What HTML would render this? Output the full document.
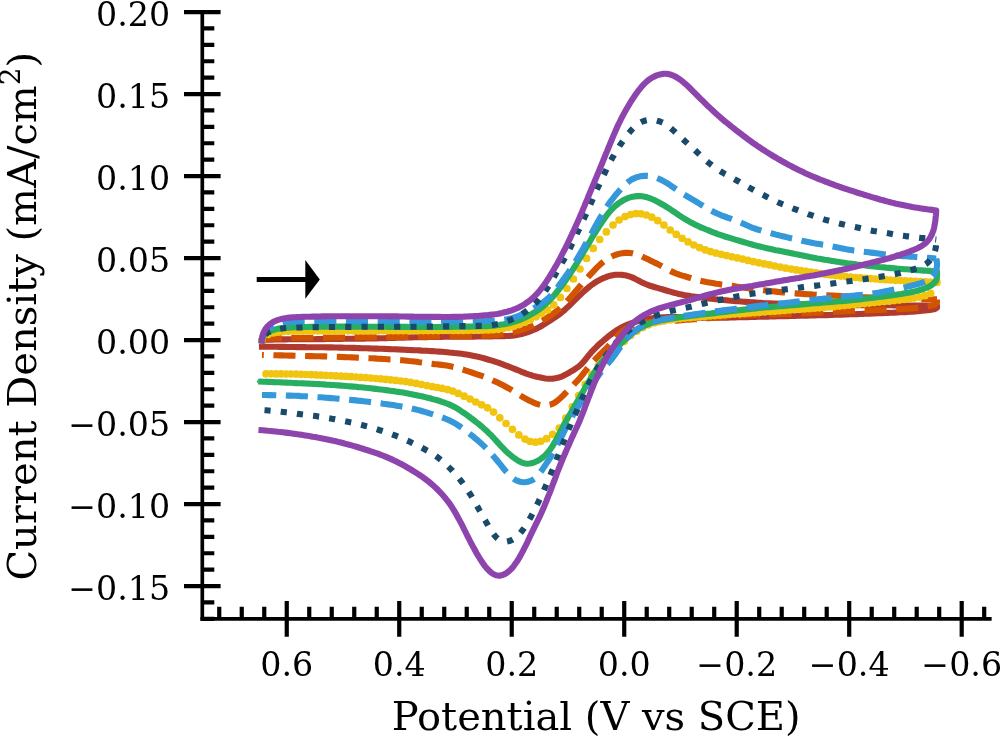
<!DOCTYPE html>
<html><head><meta charset="utf-8"><title>Cyclic voltammogram</title>
<style>
html,body{margin:0;padding:0;background:#fff;}
body{width:1000px;height:736px;overflow:hidden;}
svg{display:block;font-family:"DejaVu Serif","Liberation Serif",serif;fill:#000;}
</style></head><body>
<svg width="1000" height="736" viewBox="0 0 1000 736">
<rect width="1000" height="736" fill="#fff"/>
<g id="curves" fill="none" stroke-linejoin="round"><path d="M261.8 340.6L264.2 340.0L266.7 339.8L269.2 339.7L271.7 339.6L274.2 339.5L276.7 339.5L279.2 339.4L281.7 339.4L284.2 339.4L286.7 339.4L289.2 339.3L291.7 339.3L294.2 339.3L296.7 339.3L299.2 339.3L301.7 339.3L304.2 339.3L306.7 339.2L309.2 339.2L311.7 339.2L314.2 339.2L316.7 339.1L319.2 339.1L321.7 339.1L324.2 339.1L326.7 339.0L329.2 339.0L331.7 339.0L334.2 339.0L336.7 338.9L339.2 338.9L341.7 338.9L344.2 338.8L346.7 338.8L349.2 338.8L351.7 338.8L354.2 338.7L356.7 338.7L359.2 338.7L361.7 338.6L364.2 338.6L366.7 338.5L369.2 338.5L371.7 338.5L374.2 338.4L376.7 338.4L379.2 338.3L381.7 338.2L384.2 338.2L386.7 338.1L389.2 338.0L391.7 338.0L394.2 337.9L396.7 337.8L399.2 337.8L401.7 337.7L404.2 337.6L406.7 337.5L409.2 337.5L411.7 337.4L414.2 337.3L416.7 337.3L419.2 337.2L421.7 337.2L424.2 337.1L426.7 337.1L429.2 337.0L431.7 337.0L434.2 336.9L436.7 336.9L439.2 336.9L441.7 336.9L444.2 336.8L446.7 336.8L449.2 336.8L451.7 336.8L454.2 336.7L456.7 336.7L459.2 336.7L461.7 336.7L464.2 336.7L466.7 336.6L469.2 336.6L471.7 336.6L474.2 336.6L476.7 336.5L479.2 336.5L481.7 336.5L484.2 336.5L486.7 336.4L489.2 336.4L491.7 336.4L494.2 336.3L496.8 336.3L499.3 336.3L501.8 336.2L504.3 336.1L506.7 336.0L509.2 335.9L511.7 335.7L514.2 335.4L516.7 335.0L519.1 334.5L521.6 334.0L524.0 333.3L526.4 332.6L528.7 331.8L531.1 330.9L533.4 330.0L535.7 329.0L537.9 327.9L540.1 326.7L542.3 325.5L544.4 324.2L546.5 322.8L548.6 321.5L550.7 320.1L552.8 318.7L554.9 317.4L557.0 316.0L559.0 314.5L561.0 313.0L562.9 311.4L564.8 309.8L566.6 308.1L568.5 306.4L570.3 304.7L572.1 302.9L573.8 301.2L575.6 299.4L577.4 297.6L579.2 295.9L581.0 294.1L582.8 292.4L584.6 290.7L586.5 289.1L588.4 287.5L590.4 285.9L592.4 284.4L594.4 283.0L596.6 281.7L598.7 280.4L600.9 279.3L603.2 278.2L605.5 277.3L607.8 276.4L610.2 275.7L612.6 275.2L615.1 274.8L617.6 274.7L620.0 274.7L622.5 274.9L625.0 275.3L627.4 275.8L629.7 276.5L632.1 277.4L634.3 278.4L636.5 279.6L638.8 280.7L641.0 281.9L643.3 283.0L645.5 284.0L647.8 284.9L650.2 285.8L652.6 286.5L655.0 287.2L657.4 287.9L659.8 288.6L662.2 289.3L664.6 290.0L667.0 290.7L669.4 291.4L671.8 292.1L674.2 292.8L676.6 293.4L679.0 294.0L681.5 294.5L683.9 295.0L686.4 295.4L688.9 295.8L691.3 296.2L693.8 296.5L696.3 296.9L698.8 297.2L701.2 297.5L703.7 297.8L706.2 298.1L708.7 298.4L711.2 298.7L713.6 299.0L716.1 299.3L718.6 299.5L721.1 299.8L723.6 300.0L726.1 300.2L728.6 300.5L731.1 300.7L733.6 300.9L736.1 301.1L738.5 301.3L741.0 301.5L743.5 301.7L746.0 301.9L748.5 302.1L751.0 302.3L753.5 302.4L756.0 302.6L758.5 302.8L761.0 302.9L763.5 303.1L766.0 303.2L768.5 303.3L771.0 303.4L773.5 303.5L776.0 303.6L778.5 303.7L781.0 303.7L783.5 303.8L786.0 303.9L788.5 303.9L791.0 304.0L793.5 304.1L796.0 304.1L798.5 304.2L801.0 304.2L803.5 304.3L806.0 304.3L808.5 304.4L811.0 304.4L813.5 304.5L816.0 304.5L818.5 304.5L821.0 304.6L823.5 304.6L826.0 304.7L828.5 304.7L831.0 304.8L833.5 304.8L836.0 304.8L838.5 304.9L841.0 304.9L843.5 304.9L846.0 305.0L848.5 305.0L851.0 305.0L853.5 305.0L856.0 305.1L858.5 305.1L861.0 305.1L863.5 305.1L866.0 305.2L868.5 305.2L871.0 305.2L873.5 305.2L876.0 305.2L878.5 305.3L881.0 305.3L883.5 305.3L886.0 305.3L888.5 305.3L891.0 305.3L893.5 305.4L896.0 305.4L898.5 305.4L901.0 305.4L903.5 305.4L906.0 305.4L908.5 305.5L911.0 305.5L913.5 305.5L916.0 305.5L918.5 305.5L921.0 305.5L923.5 305.5L926.0 305.5L928.5 305.6L931.0 305.6L933.5 305.6L936.0 305.6L937.0 305.6L937.0 307.7L935.0 309.0L932.5 309.6L930.0 310.0L927.5 310.2L925.0 310.5L922.5 310.8L920.0 311.0L917.5 311.2L915.0 311.4L912.5 311.6L910.0 311.8L907.5 311.9L905.0 312.1L902.5 312.2L900.0 312.3L897.5 312.5L895.1 312.6L892.6 312.7L890.1 312.8L887.6 312.9L885.1 313.0L882.6 313.1L880.1 313.2L877.6 313.3L875.1 313.4L872.6 313.5L870.1 313.6L867.6 313.7L865.1 313.8L862.6 313.9L860.1 314.0L857.6 314.1L855.1 314.2L852.6 314.3L850.1 314.3L847.6 314.4L845.1 314.5L842.6 314.6L840.1 314.7L837.6 314.8L835.1 314.8L832.6 314.9L830.1 315.0L827.6 315.1L825.1 315.1L822.6 315.2L820.1 315.3L817.6 315.3L815.1 315.4L812.6 315.5L810.1 315.5L807.6 315.6L805.1 315.6L802.6 315.7L800.1 315.8L797.6 315.8L795.1 315.9L792.6 315.9L790.1 316.0L787.6 316.1L785.1 316.1L782.6 316.2L780.1 316.3L777.6 316.3L775.1 316.4L772.6 316.4L770.1 316.5L767.6 316.6L765.1 316.6L762.6 316.7L760.1 316.8L757.6 316.8L755.1 316.9L752.6 316.9L750.1 317.0L747.6 317.1L745.1 317.1L742.6 317.2L740.1 317.2L737.6 317.3L735.1 317.4L732.6 317.4L730.1 317.5L727.6 317.6L725.1 317.6L722.6 317.7L720.1 317.7L717.6 317.7L715.1 317.8L712.6 317.8L710.1 317.8L707.6 317.8L705.1 317.7L702.6 317.7L700.1 317.7L697.6 317.6L695.1 317.5L692.6 317.5L690.1 317.4L687.6 317.3L685.1 317.3L682.6 317.2L680.1 317.1L677.6 317.1L675.1 317.1L672.6 317.1L670.1 317.1L667.6 317.1L665.1 317.2L662.6 317.3L660.1 317.5L657.6 317.7L655.1 317.9L652.6 318.2L650.2 318.5L647.7 318.9L645.2 319.4L642.8 319.9L640.4 320.5L637.9 321.1L635.5 321.8L633.2 322.6L630.8 323.4L628.5 324.3L626.1 325.2L623.9 326.2L621.6 327.4L619.5 328.6L617.3 329.9L615.3 331.2L613.2 332.7L611.2 334.2L609.2 335.7L607.3 337.3L605.4 338.9L603.5 340.5L601.6 342.2L599.7 343.8L597.9 345.5L596.1 347.3L594.3 349.1L592.6 350.9L590.9 352.7L589.3 354.6L587.7 356.6L586.1 358.6L584.6 360.5L583.0 362.4L581.3 364.2L579.5 365.8L577.6 367.3L575.5 368.7L573.4 370.1L571.2 371.4L569.1 372.7L566.9 373.9L564.7 375.1L562.4 376.2L560.2 377.1L557.8 377.8L555.4 378.3L552.9 378.6L550.5 378.7L548.0 378.7L545.5 378.5L543.1 378.1L540.6 377.6L538.2 377.1L535.7 376.5L533.3 375.9L530.9 375.1L528.6 374.4L526.2 373.6L523.9 372.7L521.5 371.8L519.2 370.8L516.9 369.8L514.6 368.9L512.3 368.0L509.9 367.0L507.6 366.1L505.3 365.3L502.9 364.4L500.6 363.5L498.2 362.7L495.8 361.9L493.5 361.1L491.1 360.4L488.7 359.7L486.3 359.0L483.9 358.3L481.5 357.6L479.0 357.0L476.6 356.4L474.2 355.9L471.7 355.4L469.3 355.0L466.8 354.6L464.3 354.2L461.8 353.8L459.4 353.5L456.9 353.2L454.4 353.0L451.9 352.7L449.4 352.5L446.9 352.2L444.4 352.0L441.9 351.8L439.4 351.6L436.9 351.5L434.5 351.3L432.0 351.1L429.5 351.0L427.0 350.8L424.5 350.7L422.0 350.6L419.5 350.4L417.0 350.3L414.5 350.2L412.0 350.1L409.5 350.0L407.0 349.9L404.5 349.8L402.0 349.6L399.5 349.5L397.0 349.4L394.5 349.3L392.0 349.2L389.5 349.1L387.0 349.0L384.5 348.9L382.0 348.8L379.5 348.7L377.0 348.6L374.5 348.6L372.0 348.5L369.5 348.4L367.0 348.3L364.5 348.2L362.0 348.2L359.5 348.1L357.0 348.0L354.5 347.9L352.0 347.9L349.5 347.8L347.0 347.7L344.5 347.7L342.0 347.6L339.5 347.6L337.0 347.5L334.5 347.5L332.0 347.4L329.5 347.4L327.0 347.4L324.5 347.3L322.0 347.3L319.5 347.3L317.0 347.3L314.5 347.2L312.0 347.2L309.5 347.2L307.0 347.2L304.5 347.1L302.0 347.1L299.5 347.1L297.0 347.1L294.5 347.0L292.0 347.0L289.5 347.0L287.0 347.0L284.5 346.9L282.0 346.9L279.5 346.9L277.0 346.8L274.5 346.8L272.0 346.8L269.5 346.7L267.0 346.7L264.5 346.6L262.0 346.6" stroke="#b03a2e" stroke-width="6.1" stroke-linejoin="round" stroke-linecap="square"/>
<path d="M261.9 340.6L264.0 339.5L266.5 339.0L269.0 338.7L271.4 338.5L273.9 338.3L276.4 338.2L278.9 338.1L281.4 338.1L283.9 338.0L286.4 337.9L288.9 337.9L291.4 337.9L293.9 337.9L296.4 337.8L298.9 337.8L301.4 337.8L303.9 337.8L306.4 337.8L308.9 337.7L311.4 337.7L313.9 337.7L316.4 337.7L318.9 337.6L321.4 337.6L323.9 337.6L326.4 337.6L328.9 337.6L331.4 337.5L333.9 337.5L336.4 337.5L338.9 337.5L341.4 337.5L343.9 337.4L346.4 337.4L348.9 337.4L351.4 337.4L353.9 337.4L356.4 337.3L358.9 337.3L361.4 337.3L363.9 337.3L366.4 337.3L368.9 337.2L371.4 337.2L373.9 337.2L376.4 337.2L378.9 337.1L381.4 337.1L383.9 337.1L386.4 337.1L388.9 337.1L391.4 337.0L393.9 337.0L396.4 337.0L398.9 337.0L401.4 336.9L403.9 336.9L406.4 336.9L408.9 336.8L411.4 336.8L413.9 336.8L416.4 336.8L418.9 336.7L421.4 336.7L423.9 336.7L426.4 336.6L428.9 336.6L431.4 336.6L433.9 336.6L436.4 336.5L438.9 336.5L441.4 336.5L443.9 336.4L446.4 336.4L449.0 336.4L451.5 336.3L454.0 336.3L456.5 336.3L459.0 336.2L461.5 336.2L464.0 336.2L466.5 336.1L469.0 336.1L471.5 336.0L474.0 336.0L476.5 335.9L479.0 335.8L481.5 335.8L483.9 335.7L486.4 335.6L488.9 335.5L491.4 335.3L493.9 335.2L496.4 334.9L498.9 334.7L501.4 334.3L503.9 334.0L506.3 333.6L508.8 333.1L511.2 332.6L513.7 332.1L516.1 331.5L518.5 330.8L520.9 330.1L523.3 329.3L525.7 328.5L528.0 327.6L530.3 326.7L532.6 325.7L534.8 324.6L537.1 323.5L539.3 322.3L541.5 321.1L543.6 319.9L545.8 318.6L547.9 317.2L550.0 315.9L552.1 314.5L554.1 313.0L556.1 311.5L558.0 309.9L559.9 308.3L561.8 306.6L563.5 304.9L565.3 303.1L567.0 301.3L568.7 299.4L570.3 297.5L572.0 295.7L573.6 293.7L575.2 291.8L576.8 289.9L578.4 288.0L580.0 286.1L581.6 284.2L583.3 282.3L585.0 280.5L586.7 278.6L588.3 276.8L590.0 274.9L591.7 273.1L593.4 271.3L595.2 269.4L596.9 267.7L598.7 265.9L600.5 264.2L602.4 262.6L604.4 261.0L606.4 259.6L608.5 258.2L610.7 257.0L612.9 255.9L615.2 255.0L617.6 254.2L620.0 253.6L622.4 253.2L624.9 252.9L627.3 252.8L629.8 253.0L632.2 253.3L634.6 253.9L637.0 254.6L639.4 255.5L641.7 256.4L644.0 257.5L646.2 258.5L648.5 259.6L650.7 260.7L653.0 261.8L655.2 262.9L657.5 263.9L659.7 265.1L661.9 266.3L664.1 267.5L666.3 268.7L668.4 269.9L670.7 271.1L672.9 272.1L675.2 273.1L677.5 274.0L679.9 274.8L682.3 275.6L684.7 276.3L687.1 277.0L689.5 277.7L691.9 278.5L694.3 279.2L696.7 279.9L699.1 280.5L701.5 281.1L703.9 281.5L706.4 282.0L708.9 282.4L711.3 282.8L713.8 283.2L716.3 283.7L718.7 284.1L721.2 284.5L723.7 284.8L726.1 285.1L728.6 285.5L731.1 285.8L733.6 286.1L736.0 286.5L738.5 286.9L741.0 287.2L743.5 287.6L745.9 288.0L748.4 288.3L750.9 288.7L753.4 289.0L755.8 289.3L758.3 289.6L760.8 289.9L763.3 290.2L765.8 290.5L768.3 290.8L770.7 291.1L773.2 291.3L775.7 291.6L778.2 291.9L780.7 292.1L783.2 292.4L785.7 292.6L788.2 292.8L790.6 293.0L793.1 293.2L795.6 293.4L798.1 293.6L800.6 293.8L803.1 294.0L805.6 294.1L808.1 294.3L810.6 294.4L813.1 294.6L815.6 294.7L818.1 294.9L820.6 295.0L823.1 295.1L825.6 295.3L828.1 295.4L830.6 295.5L833.1 295.6L835.6 295.8L838.1 295.9L840.6 296.0L843.1 296.2L845.6 296.3L848.0 296.4L850.5 296.6L853.0 296.7L855.5 296.8L858.0 296.9L860.5 297.1L863.0 297.2L865.5 297.3L868.0 297.4L870.5 297.5L873.0 297.6L875.5 297.7L878.0 297.8L880.5 297.9L883.0 298.0L885.5 298.1L888.0 298.1L890.5 298.2L893.0 298.3L895.5 298.4L898.0 298.4L900.5 298.5L903.0 298.6L905.5 298.7L908.0 298.7L910.5 298.8L913.0 298.9L915.5 298.9L918.0 299.0L920.5 299.0L923.0 299.1L925.5 299.2L928.0 299.2L930.5 299.3L933.0 299.3L935.5 299.4L937.0 299.4" stroke="#d35400" stroke-width="6.1" stroke-dasharray="22.1 9.6" stroke-dashoffset="2.0"/>
<path d="M937.0 299.4L937.0 302.0L936.2 303.8L933.9 304.9L931.2 305.7L928.8 306.2L926.4 306.7L923.8 307.0L921.3 307.3L918.9 307.6L916.4 307.9L913.9 308.2L911.4 308.4L908.9 308.6L906.4 308.7L903.9 308.9L901.4 309.0L898.9 309.2L896.4 309.3L893.9 309.4L891.4 309.5L888.9 309.6L886.4 309.7L883.9 309.8L881.4 309.9L878.9 310.0L876.4 310.1L873.9 310.2L871.4 310.3L868.9 310.4L866.4 310.5L863.9 310.5L861.4 310.6L858.9 310.7L856.4 310.8L853.9 310.9L851.4 311.0L848.9 311.1L846.4 311.2L843.9 311.3L841.4 311.4L838.9 311.5L836.4 311.6L833.9 311.8L831.4 311.9L828.9 312.0L826.4 312.2L823.9 312.3L821.5 312.4L819.0 312.6L816.5 312.7L814.0 312.8L811.5 312.9L809.0 313.0L806.5 313.1L804.0 313.3L801.5 313.4L799.0 313.5L796.5 313.6L794.0 313.7L791.5 313.8L789.0 313.9L786.5 313.9L784.0 314.0L781.5 314.1L779.0 314.2L776.5 314.3L774.0 314.4L771.5 314.4L769.0 314.5L766.5 314.6L764.0 314.6L761.5 314.7L759.0 314.8L756.5 314.8L754.0 314.9L751.5 315.0L749.0 315.1L746.5 315.2L744.0 315.3L741.5 315.5L739.0 315.6L736.5 315.8L734.0 316.0L731.5 316.2L729.0 316.4L726.5 316.6L724.0 316.8L721.5 317.0L719.0 317.3L716.6 317.5L714.1 317.7L711.6 317.9L709.1 318.1L706.6 318.3L704.1 318.5L701.6 318.7L699.1 318.9L696.6 319.1L694.1 319.3L691.6 319.4L689.1 319.6L686.6 319.8L684.1 320.0L681.6 320.2L679.1 320.4L676.7 320.6L674.2 320.7L671.7 320.9L669.2 321.0L666.7 321.2L664.2 321.3L661.7 321.4L659.2 321.5L656.7 321.6L654.2 321.8L651.7 321.9L649.2 322.1L646.7 322.3L644.2 322.6L641.7 323.0L639.3 323.4L636.9 324.0L634.5 324.6L632.1 325.5L629.9 326.5L627.7 327.6L625.6 328.9L623.5 330.4L621.6 331.9L619.7 333.6L618.0 335.4L616.3 337.2L614.6 339.0L613.0 340.9L611.3 342.8L609.6 344.7L607.9 346.5L606.2 348.3L604.4 350.1L602.7 351.9L600.9 353.6L599.1 355.4L597.4 357.2L595.6 359.0L593.9 360.8L592.2 362.7L590.6 364.5L589.0 366.4L587.4 368.4L585.9 370.4L584.3 372.3L582.8 374.3L581.3 376.3L579.7 378.2L578.0 380.1L576.3 381.9L574.6 383.7L572.9 385.6L571.1 387.4L569.4 389.2L567.7 390.9L565.9 392.7L564.1 394.5L562.3 396.3L560.5 398.0L558.6 399.7L556.6 401.3L554.6 402.7L552.4 403.9L550.2 404.7L547.9 405.2L545.5 405.4L543.1 405.4L540.7 405.0L538.3 404.4L536.0 403.6L533.6 402.6L531.3 401.5L529.1 400.4L526.9 399.3L524.7 398.1L522.5 396.8L520.4 395.5L518.3 394.1L516.2 392.8L514.0 391.5L511.9 390.2L509.7 388.9L507.5 387.7L505.3 386.5L503.1 385.3L500.9 384.2L498.6 383.1L496.4 382.0L494.1 380.9L491.9 379.9L489.6 378.9L487.2 378.0L484.9 377.1L482.6 376.2L480.2 375.4L477.8 374.6L475.5 373.8L473.1 373.0L470.7 372.2L468.3 371.4L465.9 370.6L463.6 369.8L461.2 369.1L458.8 368.3L456.4 367.6L454.0 367.0L451.5 366.5L449.1 366.0L446.6 365.6L444.2 365.2L441.7 364.9L439.2 364.6L436.7 364.3L434.2 364.1L431.7 363.8L429.3 363.5L426.8 363.1L424.3 362.8L421.8 362.5L419.3 362.2L416.9 361.8L414.4 361.5L411.9 361.2L409.4 361.0L406.9 360.7L404.4 360.5L401.9 360.3L399.4 360.1L397.0 359.9L394.5 359.7L392.0 359.5L389.5 359.4L387.0 359.2L384.5 359.0L382.0 358.9L379.5 358.7L377.0 358.6L374.5 358.4L372.0 358.3L369.5 358.2L367.0 358.1L364.5 357.9L362.0 357.8L359.5 357.7L357.0 357.6L354.5 357.5L352.0 357.4L349.5 357.3L347.0 357.2L344.5 357.1L342.0 357.0L339.5 356.9L337.0 356.8L334.5 356.7L332.0 356.7L329.5 356.6L327.0 356.5L324.5 356.4L322.0 356.4L319.5 356.3L317.0 356.2L314.5 356.2L312.0 356.1L309.5 356.1L307.0 356.0L304.5 355.9L302.0 355.9L299.5 355.8L297.0 355.8L294.5 355.7L292.0 355.6L289.5 355.6L287.0 355.5L284.5 355.5L282.0 355.4L279.5 355.4L277.0 355.3L274.5 355.3L272.0 355.2L269.5 355.2L267.0 355.1L264.5 355.1L262.0 355.0" stroke="#d35400" stroke-width="6.1" stroke-dasharray="22.1 9.6" stroke-dashoffset="8.7"/>
<path d="M261.8 340.5h0M268.0 334.6h0M273.3 333.0h0M278.2 332.2h0M283.2 331.6h0M288.2 331.3h0M293.2 331.1h0M298.2 331.0h0M303.2 331.0h0M308.2 331.0h0M313.2 330.9h0M318.2 330.9h0M323.2 330.9h0M328.2 330.9h0M333.2 330.8h0M338.2 330.8h0M343.2 330.8h0M348.2 330.8h0M353.2 330.8h0M358.2 330.8h0M363.2 330.8h0M368.2 330.8h0M373.2 330.8h0M378.2 330.8h0M383.2 330.7h0M388.2 330.7h0M393.2 330.7h0M398.2 330.7h0M403.2 330.7h0M408.2 330.7h0M413.2 330.7h0M418.2 330.7h0M423.2 330.6h0M428.2 330.6h0M433.2 330.6h0M438.3 330.6h0M443.3 330.5h0M448.3 330.5h0M453.3 330.5h0M458.3 330.4h0M463.3 330.4h0M468.3 330.3h0M473.3 330.3h0M478.3 330.2h0M483.3 330.1h0M488.3 330.0h0M493.3 329.7h0M498.3 329.3h0M503.2 328.6h0M508.6 327.6h0M513.9 326.3h0M519.1 324.6h0M524.7 322.3h0M530.2 319.8h0M536.0 316.8h0M541.6 313.6h0M547.6 309.9h0M553.7 304.9h0M560.4 297.4h0M566.9 288.5h0M573.4 279.0h0M580.0 269.0h0M586.6 258.4h0M593.2 248.4h0M599.7 239.5h0M606.3 231.9h0M613.0 225.1h0M619.1 220.0h0M625.1 216.6h0M630.7 214.6h0M636.0 213.6h0M640.9 213.8h0M646.3 215.0h0M651.8 217.2h0M657.8 220.7h0M663.9 225.1h0M670.2 230.0h0M676.3 234.4h0M682.1 238.3h0M688.1 241.9h0M693.9 245.0h0M699.7 247.7h0M705.3 249.9h0M710.5 251.6h0M715.9 253.0h0M721.2 254.3h0M726.6 255.6h0M731.9 256.8h0M737.3 257.9h0M742.7 259.1h0M748.0 260.4h0M753.4 261.7h0M758.8 262.8h0M764.2 263.9h0M769.6 264.9h0M774.9 266.0h0M780.3 267.1h0M785.7 268.2h0M791.2 269.1h0M796.1 269.9h0M801.0 270.7h0M806.0 271.4h0M810.9 272.2h0M815.9 272.9h0M820.8 273.7h0M825.8 274.4h0M830.7 275.0h0M835.7 275.6h0M840.7 276.1h0M845.7 276.6h0M850.6 277.0h0M855.6 277.5h0M860.6 277.9h0M865.6 278.3h0M870.6 278.6h0M875.6 279.0h0M880.6 279.4h0M885.6 279.7h0M890.5 280.0h0M895.5 280.3h0M900.5 280.5h0M905.5 280.8h0M910.5 281.0h0M915.5 281.3h0M920.5 281.5h0M925.5 281.8h0M930.5 282.0h0M935.5 282.3h0M937.0 282.4h0M930.6 293.4h0M924.9 295.7h0M919.4 297.1h0M914.1 298.1h0M909.1 298.9h0M904.1 299.5h0M899.2 300.1h0M894.2 300.6h0M889.2 301.2h0M884.2 301.6h0M879.2 302.1h0M874.3 302.6h0M869.3 303.1h0M864.3 303.6h0M859.3 304.1h0M854.4 304.6h0M849.4 305.1h0M844.4 305.6h0M839.4 306.1h0M834.5 306.6h0M829.5 307.0h0M824.5 307.4h0M819.5 307.8h0M814.5 308.2h0M809.5 308.6h0M804.5 308.9h0M799.6 309.3h0M794.6 309.7h0M789.6 310.0h0M784.6 310.4h0M779.6 310.8h0M774.6 311.2h0M769.6 311.5h0M764.6 311.9h0M759.7 312.3h0M754.7 312.6h0M749.7 313.0h0M744.7 313.4h0M739.7 313.8h0M734.7 314.1h0M729.7 314.5h0M724.7 314.8h0M719.8 315.2h0M714.8 315.6h0M709.8 316.0h0M704.8 316.4h0M699.8 316.8h0M694.8 317.2h0M689.8 317.7h0M684.8 318.1h0M679.9 318.6h0M674.9 319.2h0M670.0 319.9h0M665.0 320.6h0M659.6 321.7h0M654.2 323.0h0M648.6 324.8h0M642.7 327.6h0M636.7 331.2h0M630.7 335.6h0M624.4 341.3h0M617.8 347.4h0M611.5 353.1h0M605.1 358.8h0M598.4 365.5h0M591.8 374.3h0M585.2 384.3h0M578.7 395.5h0M572.3 406.8h0M565.8 418.2h0M559.2 428.1h0M552.7 434.3h0M546.6 438.7h0M540.8 441.3h0M535.6 442.2h0M530.3 441.5h0M525.0 439.1h0M518.8 434.9h0M512.4 429.3h0M506.1 423.5h0M499.8 417.8h0M493.5 412.1h0M487.5 407.8h0M481.7 404.8h0M475.8 402.0h0M470.0 399.1h0M464.1 396.2h0M458.2 393.4h0M452.7 391.1h0M447.5 389.6h0M442.2 388.4h0M437.2 387.5h0M432.3 386.7h0M426.9 385.6h0M421.5 384.5h0M416.1 383.4h0M410.7 382.4h0M405.8 381.6h0M400.8 381.0h0M395.8 380.4h0M390.9 379.9h0M385.9 379.4h0M380.9 378.9h0M375.9 378.5h0M370.9 378.1h0M365.9 377.7h0M360.9 377.4h0M356.0 377.0h0M351.0 376.7h0M346.0 376.4h0M341.0 376.2h0M336.0 375.9h0M331.0 375.6h0M326.0 375.4h0M321.0 375.2h0M316.0 374.9h0M311.0 374.7h0M306.0 374.5h0M301.0 374.3h0M296.0 374.1h0M291.0 374.0h0M286.0 374.0h0M281.0 373.9h0M276.0 373.9h0M271.0 373.8h0M266.0 373.8h0" stroke="#f1c40f" stroke-width="7.7" stroke-linecap="round"/>
<path d="M261.8 340.5L262.4 338.1L263.6 336.0L265.3 334.1L267.3 332.6L269.5 331.5L271.8 330.5L274.2 329.7L276.6 329.1L279.1 328.6L281.6 328.3L284.0 327.9L286.5 327.7L289.0 327.6L291.5 327.4L294.0 327.3L296.5 327.2L299.0 327.2L301.5 327.1L304.0 327.0L306.5 327.0L309.0 326.9L311.5 326.8L314.0 326.8L316.5 326.7L319.0 326.7L321.5 326.7L324.0 326.6L326.5 326.6L329.0 326.6L331.5 326.6L334.0 326.6L336.5 326.6L339.0 326.6L341.5 326.6L344.0 326.6L346.5 326.6L349.0 326.6L351.5 326.6L354.0 326.7L356.5 326.7L359.0 326.7L361.5 326.7L364.0 326.7L366.5 326.7L369.0 326.7L371.5 326.8L374.0 326.8L376.5 326.8L379.0 326.8L381.5 326.8L384.0 326.8L386.5 326.8L389.0 326.9L391.5 326.9L394.0 326.9L396.5 326.9L399.0 326.9L401.5 326.9L404.0 326.9L406.5 326.9L409.0 327.0L411.5 327.0L414.0 327.0L416.5 327.0L419.0 327.0L421.5 327.0L424.0 327.0L426.5 327.0L429.0 327.0L431.5 327.0L434.0 327.0L436.5 327.0L439.0 327.0L441.5 327.0L444.0 326.9L446.5 326.9L449.0 326.9L451.6 326.9L454.1 326.8L456.6 326.8L459.1 326.8L461.6 326.7L464.1 326.7L466.6 326.6L469.1 326.6L471.6 326.5L474.1 326.5L476.6 326.4L479.1 326.3L481.6 326.3L484.0 326.2L486.5 326.1L489.0 326.0L491.5 325.8L494.0 325.6L496.5 325.3L499.0 325.0L501.4 324.6L503.9 324.2L506.4 323.7L508.8 323.2L511.2 322.6L513.6 321.9L516.0 321.2L518.4 320.4L520.7 319.5L523.0 318.5L525.3 317.4L527.5 316.3L529.7 315.1L531.9 313.9L534.0 312.6L536.2 311.3L538.3 310.0L540.3 308.5L542.3 307.0L544.2 305.4L546.0 303.7L547.8 302.0L549.6 300.2L551.3 298.4L553.0 296.6L554.6 294.7L556.2 292.7L557.8 290.8L559.3 288.8L560.8 286.8L562.3 284.8L563.8 282.8L565.3 280.8L566.7 278.7L568.1 276.7L569.5 274.6L570.9 272.5L572.3 270.4L573.6 268.3L575.0 266.2L576.3 264.1L577.6 262.0L578.9 259.8L580.2 257.7L581.5 255.5L582.7 253.4L584.0 251.2L585.3 249.1L586.5 246.9L587.8 244.8L589.1 242.6L590.4 240.5L591.6 238.3L592.9 236.2L594.3 234.1L595.6 231.9L596.9 229.8L598.3 227.7L599.6 225.6L601.0 223.5L602.4 221.4L603.8 219.4L605.3 217.3L606.7 215.3L608.3 213.3L609.9 211.4L611.6 209.6L613.3 207.8L615.1 206.1L617.1 204.5L619.0 203.0L621.1 201.6L623.2 200.3L625.4 199.2L627.7 198.2L630.1 197.4L632.5 196.8L634.9 196.4L637.4 196.1L639.8 196.1L642.3 196.3L644.7 196.7L647.1 197.3L649.5 198.1L651.8 199.0L654.1 200.0L656.3 201.1L658.5 202.3L660.7 203.5L662.9 204.7L665.1 206.0L667.2 207.3L669.3 208.7L671.4 210.0L673.4 211.4L675.5 212.8L677.6 214.3L679.6 215.7L681.7 217.0L683.9 218.3L686.0 219.6L688.2 220.9L690.3 222.1L692.6 223.3L694.8 224.4L697.0 225.5L699.3 226.6L701.6 227.6L703.9 228.5L706.2 229.5L708.5 230.4L710.8 231.4L713.2 232.3L715.5 233.2L717.8 234.1L720.2 234.9L722.5 235.7L724.9 236.5L727.3 237.2L729.7 237.9L732.1 238.6L734.5 239.4L736.9 240.1L739.3 240.8L741.7 241.5L744.1 242.2L746.5 242.9L748.9 243.6L751.3 244.3L753.7 245.0L756.1 245.6L758.5 246.2L761.0 246.8L763.4 247.4L765.8 248.0L768.2 248.6L770.7 249.1L773.1 249.6L775.6 250.2L778.0 250.6L780.5 251.1L782.9 251.6L785.4 252.1L787.8 252.6L790.3 253.1L792.7 253.6L795.2 254.1L797.6 254.5L800.1 255.0L802.6 255.5L805.0 256.0L807.5 256.5L809.9 257.0L812.4 257.4L814.8 257.9L817.3 258.4L819.7 258.8L822.2 259.2L824.7 259.7L827.1 260.1L829.6 260.5L832.1 260.9L834.5 261.3L837.0 261.7L839.5 262.1L841.9 262.4L844.4 262.8L846.9 263.2L849.4 263.5L851.9 263.8L854.3 264.1L856.8 264.5L859.3 264.8L861.8 265.1L864.3 265.3L866.7 265.6L869.2 265.9L871.7 266.2L874.2 266.4L876.7 266.7L879.2 267.0L881.7 267.2L884.1 267.4L886.6 267.7L889.1 267.9L891.6 268.1L894.1 268.3L896.6 268.6L899.1 268.8L901.6 269.0L904.1 269.2L906.6 269.3L909.1 269.5L911.6 269.7L914.0 269.9L916.5 270.1L919.0 270.3L921.5 270.4L924.0 270.6L926.5 270.8L929.0 270.9L931.5 271.1L934.0 271.2L936.5 271.4L937.0 271.4L937.0 274.0L937.0 276.5L936.8 278.8L935.7 281.1L933.9 283.1L932.1 284.7L930.0 286.1L927.7 287.2L925.4 288.2L923.1 289.0L920.7 289.8L918.3 290.5L915.8 291.1L913.4 291.7L910.9 292.2L908.5 292.7L906.0 293.1L903.6 293.6L901.1 294.0L898.6 294.3L896.1 294.7L893.7 295.1L891.2 295.4L888.7 295.7L886.2 296.1L883.7 296.4L881.3 296.7L878.8 297.0L876.3 297.3L873.8 297.6L871.3 297.9L868.8 298.2L866.4 298.5L863.9 298.8L861.4 299.1L858.9 299.4L856.4 299.7L853.9 300.0L851.5 300.2L849.0 300.5L846.5 300.7L844.0 300.9L841.5 301.1L839.0 301.3L836.5 301.5L834.0 301.7L831.5 301.9L829.0 302.1L826.5 302.3L824.0 302.5L821.5 302.7L819.1 302.9L816.6 303.1L814.1 303.3L811.6 303.5L809.1 303.7L806.6 303.9L804.1 304.2L801.6 304.4L799.1 304.6L796.6 304.9L794.1 305.1L791.7 305.3L789.2 305.5L786.7 305.7L784.2 305.9L781.7 306.1L779.2 306.3L776.7 306.5L774.2 306.7L771.7 306.9L769.2 307.1L766.7 307.3L764.2 307.5L761.7 307.8L759.3 308.0L756.8 308.3L754.3 308.6L751.8 308.8L749.3 309.1L746.8 309.3L744.3 309.6L741.8 309.9L739.4 310.2L736.9 310.4L734.4 310.7L731.9 311.0L729.4 311.3L726.9 311.6L724.4 311.9L722.0 312.2L719.5 312.5L717.0 312.8L714.5 313.1L712.0 313.4L709.5 313.7L707.1 313.9L704.6 314.2L702.1 314.5L699.6 314.8L697.1 315.1L694.6 315.4L692.2 315.7L689.7 316.0L687.2 316.4L684.7 316.7L682.2 317.0L679.7 317.3L677.3 317.7L674.8 318.1L672.3 318.5L669.9 318.8L667.4 319.3L664.9 319.7L662.4 320.1L660.0 320.6L657.5 321.2L655.1 321.8L652.7 322.4L650.4 323.2L648.0 324.1L645.8 325.1L643.5 326.2L641.3 327.4L639.2 328.6L637.1 330.0L635.0 331.4L633.0 332.9L631.0 334.4L629.1 336.0L627.3 337.7L625.4 339.4L623.6 341.1L621.8 342.8L620.0 344.5L618.1 346.2L616.3 347.9L614.4 349.6L612.5 351.2L610.7 352.9L608.8 354.6L607.0 356.3L605.2 358.1L603.5 359.9L601.8 361.7L600.3 363.7L598.8 365.7L597.4 367.7L596.1 369.8L594.7 372.0L593.4 374.1L592.1 376.2L590.8 378.3L589.5 380.5L588.2 382.6L586.9 384.8L585.6 386.9L584.4 389.1L583.2 391.3L581.9 393.4L580.7 395.6L579.4 397.8L578.2 399.9L577.0 402.1L575.7 404.3L574.5 406.5L573.2 408.6L572.0 410.8L570.8 413.0L569.5 415.1L568.2 417.3L567.0 419.5L565.7 421.6L564.5 423.8L563.3 426.0L562.2 428.2L561.0 430.4L559.9 432.7L558.7 434.9L557.6 437.2L556.4 439.4L555.2 441.6L553.9 443.7L552.6 445.9L551.2 447.9L549.8 450.0L548.2 451.9L546.6 453.8L544.8 455.6L543.0 457.3L541.0 458.8L539.0 460.1L536.8 461.3L534.5 462.3L532.2 463.0L529.8 463.5L527.4 463.7L525.1 463.5L522.8 462.9L520.6 462.0L518.4 460.8L516.3 459.5L514.3 458.1L512.3 456.6L510.4 455.0L508.5 453.4L506.6 451.7L504.8 450.0L503.1 448.2L501.3 446.4L499.6 444.5L497.9 442.7L496.3 440.8L494.6 439.0L492.9 437.2L491.2 435.3L489.4 433.6L487.6 431.8L485.8 430.1L483.9 428.5L482.0 426.8L480.1 425.2L478.2 423.6L476.2 422.1L474.2 420.5L472.2 419.0L470.2 417.5L468.2 416.0L466.2 414.6L464.1 413.1L462.0 411.7L459.9 410.3L457.8 408.9L455.7 407.7L453.5 406.5L451.3 405.4L449.0 404.4L446.7 403.5L444.4 402.6L442.0 401.8L439.6 401.0L437.2 400.3L434.8 399.6L432.4 399.0L430.0 398.3L427.5 397.7L425.1 397.1L422.7 396.5L420.2 395.9L417.8 395.4L415.3 394.9L412.9 394.4L410.4 393.9L408.0 393.5L405.5 393.1L403.1 392.6L400.6 392.2L398.1 391.9L395.6 391.5L393.2 391.1L390.7 390.8L388.2 390.4L385.7 390.1L383.2 389.8L380.8 389.5L378.3 389.2L375.8 388.9L373.3 388.6L370.8 388.3L368.3 388.0L365.8 387.8L363.4 387.5L360.9 387.3L358.4 387.1L355.9 386.8L353.4 386.6L350.9 386.4L348.4 386.2L345.9 386.0L343.4 385.8L340.9 385.6L338.4 385.4L335.9 385.2L333.4 385.0L331.0 384.9L328.5 384.7L326.0 384.6L323.5 384.4L321.0 384.3L318.5 384.1L316.0 384.0L313.5 383.9L311.0 383.8L308.5 383.6L306.0 383.5L303.5 383.4L301.0 383.3L298.5 383.2L296.0 383.1L293.5 383.0L291.0 382.8L288.5 382.7L286.0 382.6L283.5 382.5L281.0 382.4L278.5 382.3L276.0 382.2L273.5 382.1L271.0 382.0L268.5 381.9L266.0 381.8L263.5 381.7L261.5 381.6" stroke="#27ae60" stroke-width="6.1" stroke-linejoin="round" stroke-linecap="square"/>
<path d="M261.8 340.5L262.1 338.0L262.8 335.7L264.0 333.4L265.4 331.4L267.2 329.6L269.1 328.0L271.3 326.7L273.5 325.6L275.8 324.7L278.2 324.0L280.7 323.5L283.1 323.0L285.6 322.6L288.1 322.4L290.6 322.2L293.1 322.0L295.6 321.9L298.1 321.8L300.6 321.7L303.1 321.7L305.6 321.7L308.1 321.6L310.6 321.6L313.1 321.6L315.6 321.6L318.1 321.6L320.6 321.5L323.1 321.5L325.6 321.5L328.1 321.5L330.6 321.5L333.1 321.5L335.6 321.5L338.1 321.5L340.6 321.4L343.1 321.4L345.6 321.4L348.1 321.4L350.6 321.4L353.1 321.4L355.6 321.4L358.1 321.4L360.6 321.4L363.1 321.4L365.6 321.4L368.1 321.4L370.6 321.4L373.1 321.4L375.6 321.4L378.1 321.4L380.6 321.5L383.1 321.5L385.6 321.5L388.1 321.5L390.6 321.6L393.1 321.6L395.6 321.6L398.1 321.7L400.6 321.7L403.1 321.7L405.6 321.8L408.1 321.8L410.6 321.8L413.1 321.9L415.6 321.9L418.1 321.9L420.6 322.0L423.2 322.0L425.7 322.0L428.2 322.0L430.7 322.0L433.2 322.0L435.7 322.0L438.2 322.0L440.7 322.0L443.2 321.9L445.7 321.9L448.2 321.9L450.7 321.9L453.2 321.8L455.7 321.8L458.2 321.8L460.7 321.7L463.2 321.7L465.7 321.7L468.2 321.6L470.7 321.6L473.2 321.5L475.7 321.5L478.2 321.4L480.7 321.3L483.2 321.3L485.7 321.2L488.2 321.0L490.7 320.9L493.2 320.8L495.7 320.6L498.2 320.4L500.7 320.2L503.2 319.9L505.6 319.5L508.1 319.1L510.5 318.6L512.9 318.0L515.3 317.2L517.6 316.3L519.9 315.4L522.2 314.4L524.5 313.3L526.7 312.2L528.9 311.0L531.1 309.8L533.3 308.6L535.5 307.3L537.6 306.0L539.7 304.6L541.8 303.2L543.8 301.8L545.8 300.2L547.7 298.7L549.5 297.0L551.3 295.2L552.9 293.4L554.5 291.5L556.0 289.5L557.5 287.5L559.0 285.4L560.5 283.4L561.9 281.4L563.4 279.3L564.9 277.3L566.3 275.3L567.8 273.2L569.2 271.1L570.6 269.1L571.9 267.0L573.3 264.9L574.6 262.8L576.0 260.6L577.3 258.5L578.6 256.4L579.8 254.2L581.1 252.0L582.3 249.9L583.6 247.7L584.8 245.5L586.0 243.3L587.2 241.1L588.4 238.9L589.6 236.7L590.8 234.5L592.0 232.4L593.2 230.2L594.4 228.0L595.6 225.8L596.8 223.6L598.1 221.4L599.3 219.2L600.6 217.1L601.8 214.9L603.1 212.8L604.4 210.6L605.8 208.5L607.1 206.4L608.5 204.3L609.9 202.3L611.4 200.3L613.0 198.3L614.5 196.4L616.1 194.4L617.8 192.5L619.4 190.6L621.1 188.8L622.8 186.9L624.6 185.1L626.4 183.4L628.3 181.8L630.3 180.4L632.4 179.1L634.6 178.1L636.9 177.2L639.3 176.6L641.7 176.1L644.2 175.9L646.7 175.8L649.1 176.0L651.6 176.4L654.0 177.0L656.3 177.7L658.7 178.7L660.9 179.7L663.1 180.9L665.3 182.1L667.5 183.4L669.6 184.8L671.6 186.2L673.7 187.6L675.8 189.0L677.8 190.4L679.9 191.8L682.0 193.2L684.1 194.5L686.3 195.8L688.4 197.1L690.6 198.4L692.7 199.6L694.9 200.9L697.0 202.2L699.1 203.5L701.3 204.8L703.4 206.1L705.6 207.4L707.7 208.6L709.9 209.9L712.1 211.1L714.3 212.2L716.6 213.3L718.9 214.3L721.2 215.3L723.5 216.2L725.8 217.0L728.2 217.8L730.6 218.6L732.9 219.5L735.3 220.3L737.6 221.2L739.9 222.2L742.2 223.2L744.5 224.3L746.7 225.3L749.0 226.3L751.3 227.3L753.6 228.2L756.0 229.0L758.4 229.7L760.8 230.4L763.2 231.1L765.6 231.8L768.0 232.5L770.4 233.1L772.9 233.7L775.3 234.4L777.7 235.0L780.1 235.6L782.6 236.2L785.0 236.8L787.4 237.4L789.9 238.0L792.3 238.5L794.7 239.1L797.2 239.7L799.6 240.2L802.0 240.8L804.5 241.3L806.9 241.8L809.4 242.3L811.8 242.8L814.3 243.3L816.8 243.7L819.2 244.1L821.7 244.6L824.2 245.0L826.6 245.4L829.1 245.9L831.5 246.3L834.0 246.8L836.4 247.3L838.9 247.8L841.4 248.3L843.8 248.8L846.3 249.3L848.7 249.7L851.2 250.1L853.7 250.5L856.1 250.8L858.6 251.1L861.1 251.4L863.6 251.7L866.1 252.0L868.6 252.3L871.0 252.6L873.5 252.9L876.0 253.2L878.5 253.5L881.0 253.9L883.5 254.2L885.9 254.5L888.4 254.8L890.9 255.1L893.4 255.3L895.9 255.5L898.4 255.7L900.9 255.9L903.4 256.1L905.9 256.3L908.4 256.5L910.9 256.7L913.3 256.8L915.8 257.0L918.3 257.2L920.8 257.4L923.3 257.5L925.8 257.7L928.3 257.9L930.8 258.1L933.3 258.3L935.8 258.5L936.3 258.5" stroke="#3498db" stroke-width="6.1" stroke-dasharray="22.1 9.6" stroke-dashoffset="2.2"/>
<path d="M936.3 258.5L936.8 261.0L937.0 263.5L937.0 266.0L936.6 268.4L935.8 270.9L934.7 273.3L933.4 275.4L931.9 277.1L930.0 278.7L927.8 280.1L925.5 281.3L923.2 282.3L920.9 283.1L918.5 283.8L916.0 284.5L913.6 285.1L911.2 285.7L908.7 286.3L906.3 286.9L903.8 287.4L901.4 288.0L899.0 288.5L896.5 289.1L894.1 289.6L891.6 290.1L889.2 290.6L886.7 291.0L884.3 291.5L881.8 292.0L879.3 292.5L876.9 292.9L874.4 293.3L871.9 293.7L869.5 294.0L867.0 294.3L864.5 294.6L862.0 294.9L859.5 295.1L857.0 295.3L854.5 295.6L852.1 295.8L849.6 296.1L847.1 296.3L844.6 296.5L842.1 296.8L839.6 297.0L837.1 297.3L834.6 297.5L832.2 297.8L829.7 298.0L827.2 298.3L824.7 298.5L822.2 298.8L819.7 299.0L817.2 299.3L814.7 299.5L812.2 299.8L809.8 300.1L807.3 300.3L804.8 300.6L802.3 300.9L799.8 301.3L797.4 301.6L794.9 301.9L792.4 302.2L789.9 302.5L787.4 302.8L784.9 303.1L782.5 303.3L780.0 303.6L777.5 303.9L775.0 304.2L772.5 304.4L770.0 304.7L767.5 305.0L765.1 305.3L762.6 305.5L760.1 305.8L757.6 306.1L755.1 306.4L752.6 306.7L750.2 307.0L747.7 307.3L745.2 307.6L742.7 307.9L740.2 308.3L737.8 308.6L735.3 308.9L732.8 309.2L730.3 309.5L727.8 309.8L725.4 310.1L722.9 310.4L720.4 310.7L717.9 311.0L715.4 311.3L712.9 311.6L710.5 312.0L708.0 312.3L705.5 312.7L703.0 313.0L700.6 313.4L698.1 313.8L695.6 314.1L693.1 314.5L690.7 314.9L688.2 315.2L685.7 315.6L683.2 316.0L680.8 316.3L678.3 316.7L675.8 317.1L673.4 317.5L670.9 317.9L668.4 318.3L666.0 318.8L663.5 319.3L661.1 319.8L658.6 320.4L656.2 321.0L653.8 321.6L651.4 322.3L649.0 323.1L646.7 324.0L644.4 325.0L642.2 326.1L640.0 327.3L637.9 328.6L635.8 330.0L633.8 331.5L631.9 333.1L630.1 334.8L628.4 336.6L626.8 338.5L625.2 340.4L623.7 342.4L622.2 344.4L620.7 346.5L619.3 348.5L617.9 350.6L616.4 352.7L615.0 354.7L613.5 356.7L612.0 358.7L610.4 360.6L608.8 362.5L607.2 364.4L605.6 366.3L604.0 368.3L602.4 370.2L600.9 372.2L599.4 374.2L598.0 376.2L596.5 378.3L595.1 380.3L593.7 382.4L592.3 384.5L590.9 386.6L589.6 388.7L588.2 390.8L586.8 392.9L585.5 395.0L584.2 397.1L582.8 399.2L581.5 401.3L580.2 403.4L578.8 405.6L577.5 407.7L576.2 409.8L574.9 411.9L573.6 414.0L572.3 416.2L571.0 418.4L569.8 420.5L568.6 422.7L567.5 424.9L566.3 427.2L565.2 429.4L564.1 431.7L563.0 433.9L561.9 436.1L560.8 438.4L559.6 440.6L558.5 442.8L557.3 445.0L556.1 447.2L554.9 449.4L553.7 451.6L552.4 453.8L551.2 455.9L549.9 458.1L548.6 460.2L547.2 462.3L545.8 464.4L544.4 466.5L543.0 468.6L541.6 470.7L540.1 472.7L538.5 474.7L536.9 476.6L535.2 478.2L533.2 479.6L531.1 480.7L528.9 481.5L526.5 482.0L524.1 482.2L521.7 482.0L519.3 481.5L517.0 480.7L514.9 479.6L512.9 478.2L511.0 476.6L509.2 474.9L507.5 473.1L505.8 471.2L504.2 469.3L502.6 467.3L501.1 465.4L499.5 463.4L497.9 461.5L496.3 459.5L494.7 457.6L493.1 455.7L491.5 453.8L489.8 452.0L488.1 450.2L486.3 448.4L484.5 446.6L482.7 444.9L480.9 443.2L479.0 441.5L477.1 439.9L475.2 438.3L473.3 436.7L471.3 435.1L469.4 433.6L467.4 432.0L465.4 430.5L463.4 429.0L461.3 427.5L459.3 426.1L457.2 424.7L455.0 423.4L452.9 422.2L450.7 421.1L448.5 420.0L446.2 419.0L443.9 418.1L441.5 417.2L439.2 416.4L436.8 415.6L434.4 414.9L432.0 414.1L429.6 413.4L427.2 412.6L424.8 411.9L422.4 411.2L420.0 410.5L417.6 409.9L415.1 409.3L412.7 408.7L410.3 408.1L407.8 407.6L405.4 407.2L402.9 406.7L400.5 406.3L398.0 405.9L395.5 405.5L393.1 405.1L390.6 404.7L388.1 404.4L385.6 404.0L383.1 403.7L380.7 403.3L378.2 403.0L375.7 402.7L373.2 402.4L370.7 402.1L368.3 401.8L365.8 401.5L363.3 401.2L360.8 400.9L358.3 400.7L355.8 400.4L353.3 400.1L350.9 399.9L348.4 399.6L345.9 399.4L343.4 399.1L340.9 398.9L338.4 398.7L335.9 398.5L333.4 398.3L330.9 398.1L328.4 397.9L325.9 397.7L323.4 397.5L321.0 397.3L318.5 397.2L316.0 397.0L313.5 396.8L311.0 396.7L308.5 396.5L306.0 396.3L303.5 396.2L301.0 396.1L298.5 395.9L296.0 395.8L293.5 395.7L291.0 395.6L288.5 395.6L286.0 395.5L283.5 395.4L281.0 395.3L278.5 395.3L276.0 395.2L273.5 395.2L271.0 395.1L268.5 395.1L266.0 395.0L263.5 395.0L262.0 395.0" stroke="#3498db" stroke-width="6.1" stroke-dasharray="22.1 9.6" stroke-dashoffset="3.3"/>
<path d="M261.8 340.5L262.4 338.1L263.7 336.0L265.4 334.2L267.4 332.7L269.7 331.6L272.0 330.6L274.4 329.9L276.8 329.3L279.3 328.9L281.7 328.5L284.2 328.2L286.7 328.0L289.2 327.8L291.7 327.7L294.2 327.6L296.7 327.5L299.2 327.5L301.7 327.4L304.2 327.3L306.7 327.3L309.2 327.2L311.7 327.2L314.2 327.2L316.7 327.1L319.2 327.1L321.7 327.1L324.2 327.1L326.7 327.0L329.2 327.0L331.7 327.0L334.2 327.0L336.7 327.0L339.2 326.9L341.7 326.9L344.2 326.9L346.7 326.9L349.2 326.9L351.7 326.9L354.2 326.9L356.7 326.9L359.2 326.9L361.7 326.8L364.2 326.8L366.7 326.8L369.2 326.8L371.7 326.8L374.2 326.8L376.7 326.8L379.2 326.8L381.7 326.8L384.2 326.8L386.7 326.8L389.2 326.8L391.7 326.8L394.2 326.8L396.7 326.8L399.2 326.7L401.7 326.7L404.2 326.7L406.7 326.7L409.2 326.7L411.7 326.7L414.2 326.7L416.7 326.7L419.2 326.7L421.7 326.6L424.2 326.6L426.7 326.6L429.2 326.6L431.7 326.6L434.2 326.6L436.7 326.5L439.2 326.5L441.7 326.5L444.2 326.4L446.7 326.4L449.2 326.4L451.7 326.3L454.2 326.3L456.7 326.2L459.2 326.2L461.7 326.1L464.2 326.1L466.7 326.1L469.2 326.0L471.7 326.0L474.2 325.9L476.7 325.9L479.2 325.9L481.7 325.8L484.2 325.7L486.7 325.6L489.2 325.4L491.7 325.2L494.1 324.8L496.6 324.3L499.0 323.8L501.4 323.1L503.8 322.4L506.2 321.6L508.5 320.7L510.9 319.8L513.2 318.8L515.5 317.8L517.7 316.6L519.8 315.4L522.0 314.2L524.0 312.8L526.1 311.3L528.0 309.8L530.0 308.2L531.8 306.5L533.7 304.8L535.5 303.1L537.2 301.3L538.9 299.4L540.5 297.5L542.1 295.6L543.6 293.6L545.0 291.6L546.4 289.5L547.7 287.4L549.1 285.2L550.3 283.1L551.6 280.9L552.9 278.8L554.1 276.6L555.4 274.4L556.6 272.2L557.8 270.1L559.1 267.9L560.3 265.7L561.6 263.6L562.8 261.4L564.1 259.2L565.3 257.0L566.5 254.9L567.7 252.6L568.8 250.4L569.9 248.2L571.1 246.0L572.2 243.7L573.3 241.5L574.3 239.2L575.4 237.0L576.5 234.7L577.5 232.4L578.6 230.2L579.7 227.9L580.7 225.6L581.8 223.4L582.8 221.1L583.9 218.8L584.9 216.6L586.0 214.3L587.0 212.0L588.1 209.8L589.1 207.5L590.1 205.2L591.1 202.9L592.1 200.6L593.1 198.3L594.1 196.0L595.1 193.7L596.1 191.4L597.1 189.2L598.1 186.9L599.2 184.6L600.2 182.3L601.3 180.1L602.3 177.8L603.4 175.5L604.5 173.3L605.6 171.1L606.7 168.8L607.8 166.6L609.0 164.3L610.1 162.1L611.3 159.9L612.4 157.7L613.7 155.5L614.9 153.3L616.2 151.2L617.5 149.1L618.9 147.0L620.2 144.9L621.7 142.8L623.1 140.8L624.5 138.7L626.0 136.7L627.5 134.7L629.1 132.8L630.7 130.8L632.4 129.0L634.1 127.2L635.9 125.5L637.9 124.0L640.0 122.7L642.1 121.6L644.4 120.8L646.8 120.3L649.2 120.0L651.7 120.0L654.2 120.2L656.6 120.5L659.0 121.2L661.2 122.0L663.5 123.0L665.6 124.3L667.6 125.7L669.6 127.3L671.5 128.9L673.4 130.5L675.3 132.2L677.1 133.9L679.0 135.6L680.9 137.3L682.7 139.0L684.5 140.7L686.4 142.4L688.2 144.1L690.1 145.8L691.9 147.4L693.8 149.1L695.6 150.8L697.4 152.5L699.3 154.2L701.1 155.9L702.9 157.6L704.8 159.3L706.6 161.0L708.5 162.6L710.5 164.2L712.4 165.7L714.4 167.2L716.5 168.7L718.5 170.1L720.6 171.4L722.8 172.7L724.9 174.0L727.1 175.2L729.3 176.5L731.5 177.6L733.7 178.8L735.9 180.0L738.1 181.2L740.2 182.5L742.4 183.7L744.6 184.9L746.8 186.2L748.9 187.4L751.1 188.6L753.3 189.8L755.5 191.0L757.7 192.2L759.9 193.3L762.1 194.5L764.4 195.6L766.6 196.8L768.8 197.9L771.1 199.0L773.3 200.1L775.6 201.1L777.9 202.2L780.2 203.2L782.5 204.2L784.8 205.1L787.1 206.1L789.4 207.0L791.7 207.9L794.0 208.8L796.4 209.7L798.7 210.6L801.1 211.5L803.4 212.4L805.8 213.2L808.1 214.1L810.5 214.9L812.8 215.7L815.2 216.5L817.6 217.3L819.9 218.1L822.3 218.8L824.7 219.6L827.1 220.3L829.5 220.9L831.9 221.6L834.4 222.2L836.8 222.9L839.2 223.5L841.6 224.0L844.1 224.6L846.5 225.2L849.0 225.7L851.4 226.2L853.8 226.8L856.3 227.3L858.7 227.8L861.2 228.4L863.6 228.9L866.1 229.4L868.5 229.9L871.0 230.4L873.4 230.9L875.9 231.3L878.3 231.7L880.8 232.1L883.3 232.5L885.7 232.9L888.2 233.3L890.7 233.7L893.1 234.2L895.6 234.6L898.1 235.0L900.5 235.4L903.0 235.7L905.5 236.1L908.0 236.4L910.4 236.7L912.9 237.0L915.4 237.3L917.9 237.6L920.4 237.9L922.9 238.1L925.4 238.4L927.8 238.7L930.3 238.9L932.8 239.2L935.3 239.4L936.3 239.5" stroke="#1a4a6a" stroke-width="6.1" stroke-dasharray="6.15 10.15" stroke-dashoffset="-7.0"/>
<path d="M936.3 239.5L936.2 242.0L936.1 244.5L935.9 247.0L935.4 249.5L934.7 251.9L933.9 254.2L932.7 256.4L931.3 258.5L929.8 260.5L928.0 262.3L926.1 263.9L924.0 265.2L921.8 266.4L919.5 267.4L917.1 268.2L914.7 269.0L912.3 269.7L909.9 270.4L907.5 271.1L905.1 271.7L902.7 272.4L900.3 273.0L897.8 273.6L895.4 274.1L892.9 274.6L890.5 275.1L888.0 275.5L885.6 275.9L883.1 276.3L880.6 276.7L878.1 277.1L875.7 277.5L873.2 277.9L870.7 278.3L868.3 278.6L865.8 279.0L863.3 279.3L860.8 279.7L858.3 280.0L855.9 280.3L853.4 280.6L850.9 281.0L848.4 281.3L845.9 281.6L843.5 282.0L841.0 282.3L838.5 282.6L836.0 283.0L833.6 283.3L831.1 283.7L828.6 284.0L826.1 284.3L823.6 284.6L821.2 284.9L818.7 285.3L816.2 285.6L813.7 285.9L811.2 286.2L808.8 286.5L806.3 286.8L803.8 287.1L801.3 287.4L798.8 287.7L796.3 288.1L793.9 288.4L791.4 288.7L788.9 289.0L786.4 289.3L783.9 289.6L781.5 289.9L779.0 290.2L776.5 290.6L774.0 290.9L771.5 291.2L769.1 291.5L766.6 291.8L764.1 292.1L761.6 292.4L759.1 292.7L756.6 293.1L754.2 293.4L751.7 293.8L749.2 294.2L746.8 294.6L744.3 295.0L741.8 295.5L739.4 295.9L736.9 296.4L734.5 296.9L732.0 297.4L729.6 297.9L727.1 298.4L724.7 298.9L722.2 299.4L719.8 299.9L717.3 300.4L714.9 301.0L712.4 301.5L710.0 302.1L707.6 302.6L705.1 303.2L702.7 303.8L700.3 304.4L697.8 305.0L695.4 305.5L693.0 306.1L690.5 306.7L688.1 307.2L685.6 307.7L683.2 308.2L680.7 308.8L678.3 309.3L675.9 309.9L673.4 310.4L671.0 311.0L668.6 311.7L666.2 312.3L663.8 313.0L661.4 313.7L659.0 314.5L656.6 315.3L654.3 316.2L652.0 317.1L649.6 318.0L647.4 319.0L645.1 320.1L642.9 321.2L640.7 322.4L638.5 323.6L636.4 324.9L634.3 326.3L632.2 327.7L630.2 329.2L628.2 330.7L626.3 332.3L624.4 333.9L622.5 335.6L620.7 337.4L619.0 339.2L617.4 341.0L615.8 342.9L614.2 344.9L612.7 346.9L611.2 348.9L609.7 350.9L608.2 352.9L606.6 354.9L605.1 356.9L603.7 358.9L602.2 360.9L600.8 363.0L599.5 365.1L598.1 367.2L596.8 369.3L595.6 371.5L594.3 373.7L593.1 375.9L592.0 378.1L590.8 380.3L589.6 382.5L588.5 384.7L587.4 387.0L586.4 389.3L585.3 391.5L584.3 393.8L583.3 396.1L582.3 398.4L581.4 400.7L580.4 403.0L579.4 405.3L578.4 407.6L577.3 409.9L576.2 412.1L575.2 414.4L574.1 416.6L573.0 418.9L572.0 421.2L571.0 423.5L570.1 425.8L569.1 428.1L568.2 430.4L567.3 432.8L566.4 435.1L565.4 437.4L564.5 439.7L563.6 442.0L562.7 444.4L561.7 446.7L560.8 449.0L559.9 451.3L558.9 453.7L558.0 456.0L557.1 458.3L556.2 460.6L555.2 463.0L554.3 465.3L553.4 467.6L552.5 469.9L551.5 472.2L550.6 474.6L549.7 476.9L548.7 479.2L547.7 481.5L546.7 483.8L545.7 486.1L544.7 488.4L543.7 490.7L542.7 492.9L541.6 495.2L540.6 497.5L539.5 499.7L538.4 502.0L537.3 504.2L536.2 506.5L535.1 508.7L534.0 511.0L532.8 513.2L531.6 515.4L530.5 517.6L529.2 519.8L528.0 521.9L526.6 524.1L525.3 526.2L523.9 528.3L522.4 530.3L520.9 532.3L519.3 534.2L517.5 536.0L515.7 537.6L513.7 539.0L511.6 540.2L509.3 541.0L507.0 541.5L504.7 541.6L502.4 541.2L500.2 540.3L498.2 539.1L496.4 537.5L494.8 535.7L493.3 533.7L491.9 531.6L490.5 529.5L489.2 527.4L488.0 525.2L486.7 523.1L485.5 520.9L484.2 518.7L483.0 516.5L481.8 514.3L480.6 512.2L479.3 510.0L478.1 507.8L476.9 505.6L475.7 503.4L474.4 501.3L473.1 499.1L471.9 497.0L470.6 494.8L469.2 492.7L467.9 490.6L466.5 488.5L465.1 486.5L463.6 484.4L462.2 482.4L460.6 480.4L459.1 478.5L457.5 476.5L455.9 474.6L454.2 472.8L452.5 470.9L450.8 469.1L449.0 467.4L447.2 465.6L445.4 463.9L443.5 462.2L441.7 460.6L439.7 459.0L437.8 457.4L435.8 456.0L433.7 454.5L431.6 453.2L429.5 451.9L427.3 450.7L425.1 449.5L422.9 448.3L420.7 447.1L418.4 446.0L416.2 444.9L414.0 443.8L411.7 442.7L409.4 441.6L407.2 440.6L404.9 439.5L402.6 438.5L400.3 437.6L398.0 436.6L395.7 435.7L393.3 434.8L391.0 433.9L388.6 433.1L386.3 432.3L383.9 431.5L381.5 430.7L379.1 430.0L376.7 429.2L374.3 428.5L371.9 427.8L369.5 427.1L367.1 426.4L364.7 425.8L362.3 425.1L359.9 424.5L357.4 423.9L355.0 423.3L352.6 422.7L350.1 422.2L347.7 421.7L345.2 421.2L342.8 420.7L340.3 420.2L337.9 419.8L335.4 419.4L332.9 418.9L330.5 418.5L328.0 418.1L325.5 417.7L323.1 417.2L320.6 416.8L318.1 416.5L315.7 416.1L313.2 415.7L310.7 415.4L308.2 415.1L305.8 414.8L303.3 414.5L300.8 414.2L298.3 413.9L295.8 413.5L293.3 413.2L290.9 412.9L288.4 412.6L285.9 412.3L283.4 412.0L280.9 411.7L278.4 411.4L276.0 411.2L273.5 410.9L271.0 410.7L268.5 410.5L266.0 410.3L263.5 410.1L261.5 410.0" stroke="#1a4a6a" stroke-width="6.1" stroke-dasharray="6.15 10.15" stroke-dashoffset="10.6"/>
<path d="M261.8 340.5L262.0 338.0L262.5 335.6L263.3 333.2L264.4 330.9L265.6 328.8L267.1 326.8L268.9 325.1L270.9 323.5L273.0 322.1L275.2 321.0L277.5 320.1L279.9 319.4L282.4 318.7L284.8 318.3L287.3 317.9L289.8 317.6L292.3 317.4L294.8 317.2L297.3 317.1L299.8 317.0L302.3 316.9L304.8 316.8L307.3 316.8L309.8 316.7L312.3 316.6L314.8 316.6L317.3 316.5L319.8 316.5L322.3 316.4L324.8 316.4L327.3 316.3L329.8 316.3L332.3 316.3L334.8 316.3L337.3 316.3L339.8 316.3L342.3 316.3L344.8 316.2L347.3 316.2L349.8 316.2L352.3 316.2L354.8 316.2L357.3 316.2L359.8 316.2L362.3 316.2L364.8 316.2L367.3 316.2L369.8 316.2L372.3 316.2L374.8 316.2L377.3 316.2L379.8 316.2L382.3 316.3L384.8 316.3L387.3 316.3L389.8 316.4L392.3 316.4L394.8 316.4L397.3 316.4L399.8 316.5L402.3 316.5L404.8 316.5L407.3 316.6L409.8 316.6L412.3 316.6L414.8 316.7L417.3 316.7L419.8 316.7L422.3 316.7L424.8 316.8L427.3 316.8L429.8 316.8L432.3 316.9L434.8 316.9L437.3 316.9L439.8 316.9L442.3 317.0L444.8 317.0L447.3 317.0L449.8 317.0L452.3 316.9L454.8 316.9L457.3 316.9L459.8 316.8L462.3 316.7L464.8 316.6L467.3 316.5L469.8 316.4L472.3 316.3L474.8 316.1L477.3 316.0L479.8 315.8L482.3 315.6L484.8 315.4L487.3 315.2L489.8 314.9L492.2 314.6L494.7 314.3L497.2 313.9L499.6 313.4L502.1 312.9L504.5 312.3L507.0 311.7L509.4 311.0L511.7 310.3L514.1 309.4L516.4 308.5L518.7 307.4L520.9 306.3L523.0 305.1L525.2 303.8L527.2 302.3L529.2 300.9L531.2 299.3L533.0 297.6L534.8 295.9L536.6 294.1L538.3 292.3L539.9 290.4L541.5 288.4L543.0 286.4L544.4 284.4L545.9 282.4L547.2 280.3L548.6 278.2L549.9 276.0L551.2 273.9L552.5 271.8L553.8 269.6L555.0 267.4L556.3 265.3L557.5 263.1L558.7 260.9L559.9 258.7L561.0 256.5L562.2 254.2L563.3 252.0L564.5 249.8L565.6 247.6L566.7 245.3L567.8 243.1L568.9 240.8L570.0 238.6L571.0 236.3L572.1 234.0L573.1 231.8L574.2 229.5L575.2 227.2L576.3 224.9L577.3 222.6L578.3 220.4L579.3 218.1L580.3 215.8L581.3 213.5L582.3 211.2L583.2 208.9L584.2 206.6L585.1 204.3L586.1 201.9L587.1 199.6L588.0 197.3L589.0 195.0L589.9 192.7L590.9 190.4L591.8 188.1L592.8 185.8L593.8 183.5L594.7 181.2L595.7 178.8L596.7 176.5L597.6 174.2L598.6 171.9L599.5 169.6L600.5 167.3L601.4 165.0L602.4 162.7L603.3 160.3L604.3 158.0L605.2 155.7L606.1 153.4L607.1 151.1L608.0 148.8L609.0 146.5L609.9 144.1L610.9 141.8L611.9 139.5L612.8 137.2L613.8 134.9L614.8 132.6L615.8 130.3L616.8 128.0L617.8 125.7L618.9 123.5L620.0 121.2L621.1 119.0L622.2 116.8L623.4 114.6L624.6 112.4L625.8 110.2L627.1 108.0L628.3 105.9L629.6 103.7L630.9 101.6L632.3 99.5L633.7 97.4L635.1 95.3L636.5 93.3L638.0 91.2L639.5 89.3L641.1 87.3L642.8 85.4L644.5 83.6L646.3 81.9L648.2 80.3L650.2 78.8L652.3 77.5L654.5 76.4L656.8 75.4L659.1 74.7L661.5 74.1L663.9 73.8L666.3 73.8L668.7 74.1L671.1 74.8L673.4 75.6L675.6 76.8L677.7 78.0L679.8 79.4L681.8 80.9L683.7 82.5L685.6 84.1L687.5 85.8L689.3 87.5L691.1 89.3L692.8 91.1L694.6 92.8L696.4 94.6L698.1 96.4L699.9 98.2L701.7 99.9L703.5 101.7L705.2 103.4L707.0 105.2L708.9 106.9L710.7 108.6L712.5 110.3L714.3 112.0L716.2 113.7L718.0 115.4L719.9 117.0L721.8 118.7L723.7 120.3L725.6 121.9L727.6 123.4L729.5 125.0L731.5 126.6L733.5 128.1L735.4 129.7L737.4 131.2L739.4 132.7L741.4 134.2L743.3 135.8L745.3 137.3L747.3 138.8L749.4 140.3L751.4 141.7L753.4 143.2L755.5 144.6L757.5 146.0L759.6 147.4L761.7 148.8L763.8 150.1L765.9 151.5L768.0 152.8L770.1 154.2L772.3 155.5L774.4 156.8L776.6 158.0L778.7 159.3L780.9 160.5L783.1 161.8L785.3 163.0L787.4 164.2L789.7 165.4L791.9 166.5L794.1 167.7L796.3 168.8L798.6 169.9L800.8 171.0L803.1 172.1L805.3 173.2L807.6 174.2L809.9 175.2L812.2 176.2L814.5 177.2L816.8 178.1L819.1 179.1L821.4 180.0L823.8 180.9L826.1 181.8L828.4 182.7L830.8 183.6L833.1 184.4L835.5 185.3L837.8 186.1L840.2 187.0L842.6 187.8L844.9 188.6L847.3 189.4L849.7 190.2L852.1 190.9L854.4 191.7L856.8 192.5L859.2 193.2L861.6 193.9L864.0 194.7L866.4 195.4L868.8 196.1L871.2 196.9L873.6 197.6L876.0 198.3L878.4 199.0L880.8 199.7L883.2 200.3L885.6 201.0L888.0 201.6L890.4 202.3L892.9 202.9L895.3 203.5L897.7 204.0L900.2 204.6L902.6 205.1L905.1 205.6L907.5 206.1L910.0 206.5L912.4 207.0L914.9 207.4L917.4 207.8L919.8 208.2L922.3 208.6L924.8 208.9L927.3 209.3L929.7 209.6L932.2 209.9L934.7 210.2L936.2 210.4L936.1 212.8L935.9 215.3L935.6 217.8L935.4 220.3L935.0 222.8L934.6 225.2L934.1 227.7L933.5 230.1L932.6 232.5L931.7 234.8L930.5 237.0L929.2 239.1L927.6 241.0L925.9 242.8L923.9 244.4L921.9 245.9L919.7 247.1L917.5 248.2L915.2 249.2L912.9 250.2L910.6 251.1L908.2 252.0L905.9 252.9L903.5 253.7L901.2 254.5L898.8 255.3L896.4 256.0L894.0 256.8L891.6 257.5L889.2 258.2L886.8 258.8L884.4 259.5L881.9 260.1L879.5 260.7L877.1 261.3L874.7 261.9L872.2 262.5L869.8 263.1L867.4 263.7L864.9 264.3L862.5 264.9L860.1 265.5L857.7 266.1L855.2 266.7L852.8 267.3L850.4 267.9L847.9 268.5L845.5 269.0L843.1 269.5L840.6 270.1L838.2 270.6L835.7 271.1L833.3 271.6L830.8 272.1L828.4 272.6L825.9 273.1L823.4 273.6L821.0 274.0L818.5 274.5L816.1 274.9L813.6 275.4L811.1 275.8L808.7 276.2L806.2 276.6L803.7 277.0L801.3 277.4L798.8 277.9L796.3 278.3L793.9 278.7L791.4 279.1L788.9 279.5L786.5 279.9L784.0 280.3L781.5 280.8L779.1 281.2L776.6 281.6L774.2 282.1L771.7 282.5L769.2 282.9L766.8 283.3L764.3 283.8L761.8 284.2L759.4 284.6L756.9 285.0L754.4 285.4L752.0 285.9L749.5 286.3L747.0 286.7L744.6 287.1L742.1 287.5L739.6 288.0L737.2 288.4L734.7 288.8L732.2 289.3L729.8 289.8L727.3 290.3L724.9 290.8L722.4 291.3L720.0 291.8L717.6 292.4L715.1 293.0L712.7 293.6L710.3 294.2L707.9 294.8L705.5 295.5L703.0 296.2L700.6 296.9L698.2 297.6L695.8 298.3L693.4 299.0L691.0 299.7L688.6 300.3L686.2 301.0L683.8 301.6L681.4 302.3L678.9 302.9L676.5 303.5L674.1 304.1L671.7 304.8L669.3 305.4L666.9 306.1L664.4 306.8L662.1 307.5L659.7 308.2L657.3 309.0L655.0 309.9L652.6 310.8L650.4 311.8L648.1 312.9L645.9 314.1L643.7 315.3L641.6 316.6L639.5 318.0L637.5 319.5L635.5 321.0L633.6 322.6L631.7 324.2L629.9 325.9L628.2 327.7L626.6 329.6L625.0 331.5L623.4 333.5L621.9 335.5L620.4 337.5L618.8 339.5L617.3 341.5L615.8 343.5L614.3 345.5L612.8 347.5L611.4 349.6L610.1 351.6L608.7 353.8L607.4 355.9L606.2 358.1L605.0 360.3L603.8 362.5L602.7 364.7L601.5 366.9L600.5 369.2L599.4 371.4L598.4 373.7L597.3 376.0L596.4 378.3L595.4 380.6L594.4 382.9L593.5 385.2L592.6 387.6L591.6 389.9L590.7 392.2L589.8 394.6L588.9 396.9L588.0 399.2L587.1 401.6L586.2 403.9L585.3 406.2L584.5 408.6L583.6 410.9L582.7 413.3L581.7 415.6L580.8 417.9L579.9 420.2L578.9 422.5L577.9 424.8L576.8 427.1L575.8 429.4L574.8 431.6L573.7 433.9L572.7 436.2L571.6 438.4L570.6 440.7L569.6 443.0L568.6 445.3L567.6 447.6L566.6 449.9L565.6 452.2L564.6 454.5L563.6 456.8L562.6 459.1L561.7 461.4L560.8 463.7L559.8 466.0L558.9 468.4L558.0 470.7L557.1 473.0L556.2 475.4L555.4 477.7L554.5 480.1L553.6 482.4L552.7 484.8L551.9 487.1L551.0 489.4L550.1 491.8L549.2 494.1L548.2 496.4L547.3 498.7L546.4 501.1L545.4 503.4L544.5 505.7L543.5 508.0L542.5 510.3L541.5 512.6L540.5 514.9L539.4 517.1L538.3 519.4L537.2 521.6L536.1 523.9L535.0 526.1L533.9 528.4L532.8 530.6L531.7 532.9L530.7 535.1L529.6 537.4L528.5 539.7L527.5 541.9L526.4 544.2L525.3 546.4L524.1 548.7L523.0 550.9L521.8 553.1L520.6 555.3L519.4 557.5L518.1 559.7L516.7 561.8L515.3 563.8L513.9 565.8L512.3 567.8L510.6 569.6L508.8 571.3L506.8 572.8L504.7 574.1L502.6 575.0L500.3 575.6L498.1 575.6L495.9 575.2L493.7 574.3L491.7 573.0L489.8 571.4L488.1 569.6L486.4 567.8L484.8 565.8L483.3 563.8L481.9 561.7L480.5 559.6L479.2 557.5L477.9 555.4L476.6 553.2L475.4 551.0L474.2 548.8L473.0 546.6L471.8 544.4L470.6 542.2L469.5 540.0L468.4 537.7L467.2 535.5L466.1 533.2L465.0 531.0L463.9 528.8L462.8 526.5L461.7 524.3L460.5 522.1L459.3 519.9L458.1 517.7L456.9 515.5L455.7 513.3L454.4 511.1L453.1 509.0L451.8 506.9L450.4 504.8L449.0 502.8L447.5 500.8L445.9 498.8L444.3 496.9L442.7 495.0L441.0 493.2L439.3 491.3L437.5 489.5L435.7 487.8L433.9 486.1L432.0 484.4L430.1 482.8L428.2 481.2L426.2 479.7L424.2 478.2L422.2 476.8L420.1 475.4L418.0 474.0L415.9 472.7L413.8 471.3L411.6 470.0L409.5 468.7L407.3 467.5L405.1 466.2L403.0 465.0L400.7 463.8L398.5 462.7L396.3 461.5L394.0 460.4L391.8 459.4L389.5 458.4L387.2 457.4L384.9 456.4L382.6 455.5L380.2 454.6L377.9 453.7L375.5 452.9L373.2 452.1L370.8 451.3L368.4 450.5L366.0 449.8L363.7 449.0L361.3 448.3L358.9 447.5L356.5 446.8L354.1 446.1L351.6 445.4L349.2 444.8L346.8 444.1L344.4 443.5L342.0 442.8L339.5 442.2L337.1 441.6L334.7 441.1L332.2 440.5L329.8 440.0L327.4 439.5L324.9 439.0L322.5 438.5L320.0 438.0L317.5 437.6L315.1 437.1L312.6 436.7L310.2 436.2L307.7 435.8L305.2 435.4L302.7 435.0L300.3 434.6L297.8 434.3L295.3 433.9L292.8 433.6L290.4 433.2L287.9 432.9L285.4 432.6L282.9 432.3L280.4 432.0L277.9 431.8L275.5 431.5L273.0 431.2L270.5 431.0L268.0 430.8L265.5 430.5L263.0 430.3L261.5 430.2" stroke="#8e44ad" stroke-width="6.1" stroke-linejoin="round" stroke-linecap="square"/></g>
<line x1="202.3" y1="9.94" x2="202.3" y2="620.65" stroke="#000" stroke-width="3.7"/><line x1="200.45" y1="618.8" x2="991.65" y2="618.8" stroke="#000" stroke-width="3.7"/><path d="M184.00 586.04H220.60M184.00 504.04H220.60M184.00 422.04H220.60M184.00 340.04H220.60M184.00 258.04H220.60M184.00 176.04H220.60M184.00 94.04H220.60M184.00 12.04H220.60M961.70 600.90V636.70M849.21 600.90V636.70M736.72 600.90V636.70M624.23 600.90V636.70M511.73 600.90V636.70M399.24 600.90V636.70M286.75 600.90V636.70" stroke="#000" stroke-width="4.2" fill="none"/><path d="M202.30 618.84H214.30M202.30 602.44H214.30M202.30 569.64H214.30M202.30 553.24H214.30M202.30 536.84H214.30M202.30 520.44H214.30M202.30 487.64H214.30M202.30 471.24H214.30M202.30 454.84H214.30M202.30 438.44H214.30M202.30 405.64H214.30M202.30 389.24H214.30M202.30 372.84H214.30M202.30 356.44H214.30M202.30 323.64H214.30M202.30 307.24H214.30M202.30 290.84H214.30M202.30 274.44H214.30M202.30 241.64H214.30M202.30 225.24H214.30M202.30 208.84H214.30M202.30 192.44H214.30M202.30 159.64H214.30M202.30 143.24H214.30M202.30 126.84H214.30M202.30 110.44H214.30M202.30 77.64H214.30M202.30 61.24H214.30M202.30 44.84H214.30M202.30 28.44H214.30M984.20 618.80V606.80M939.20 618.80V606.80M916.71 618.80V606.80M894.21 618.80V606.80M871.71 618.80V606.80M826.71 618.80V606.80M804.21 618.80V606.80M781.71 618.80V606.80M759.22 618.80V606.80M714.22 618.80V606.80M691.72 618.80V606.80M669.22 618.80V606.80M646.72 618.80V606.80M601.73 618.80V606.80M579.23 618.80V606.80M556.73 618.80V606.80M534.23 618.80V606.80M489.24 618.80V606.80M466.74 618.80V606.80M444.24 618.80V606.80M421.74 618.80V606.80M376.74 618.80V606.80M354.25 618.80V606.80M331.75 618.80V606.80M309.25 618.80V606.80M264.25 618.80V606.80M241.75 618.80V606.80M219.25 618.80V606.80" stroke="#000" stroke-width="4.2" fill="none"/><g font-size="33.3" text-anchor="end"><text x="170.2" y="599.84">−0.15</text><text x="170.2" y="517.84">−0.10</text><text x="170.2" y="435.84">−0.05</text><text x="170.2" y="353.84">0.00</text><text x="170.2" y="271.84">0.05</text><text x="170.2" y="189.84">0.10</text><text x="170.2" y="107.84">0.15</text><text x="170.2" y="25.84">0.20</text></g><g font-size="33.3" text-anchor="middle"><text x="961.70" y="676.0">−0.6</text><text x="849.21" y="676.0">−0.4</text><text x="736.72" y="676.0">−0.2</text><text x="624.23" y="676.0">0.0</text><text x="511.73" y="676.0">0.2</text><text x="399.24" y="676.0">0.4</text><text x="286.75" y="676.0">0.6</text></g><text x="596.2" y="730.1" font-size="40.0" text-anchor="middle">Potential (V vs SCE)</text><text transform="translate(36.0,316.2) rotate(-90)" font-size="40.0" text-anchor="middle">Current Density (mA/cm<tspan font-size="28.00" dy="-15.60">2</tspan><tspan dy="15.60">)</tspan></text><path d="M258.7 378.5L256.7 381.4L258.7 384.7Z" fill="#27ae60"/><path d="M256.7 279.5H306" stroke="#000" stroke-width="5" fill="none"/><path d="M319.8 279.45L305.3 260.1V298.8Z" fill="#000"/>
</svg>
</body></html>
